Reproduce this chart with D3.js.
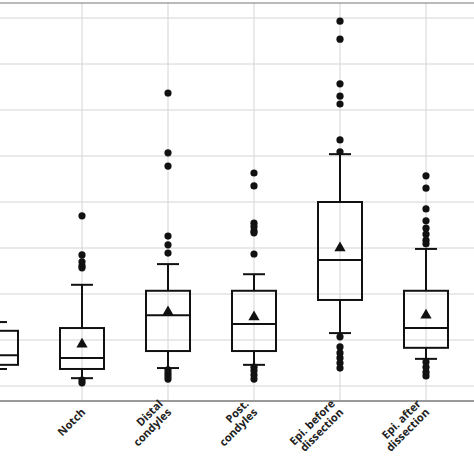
<!DOCTYPE html>
<html><head><meta charset="utf-8">
<script src="https://cdn.jsdelivr.net/npm/d3@7"></script>
<style>body{margin:0;background:#fff}</style>
</head><body><svg id="chart" width="474" height="474"></svg>
<script>
// categories (first and last are cut off by the crop)
const categories = ["Ti0", "Notch", "Distal\ncondyles", "Post.\ncondyles", "Epi. before\ndissection", "Epi. after\ndissection", "Tibial\ncut"];
const labels = ["", "Notch", "Distal\ncondyles", "Post.\ncondyles", "Epi. before\ndissection", "Epi. after\ndissection", "Tibial\ncut"];
const q1 = [0.46, 0.37, 0.76, 0.76, 1.87, 0.83, null];
const median = [0.67, 0.61, 1.54, 1.35, 2.74, 1.26, null];
const q3 = [1.20, 1.26, 2.07, 2.07, 4.00, 2.07, null];
const whiskerLo = [0.37, 0.17, 0.39, 0.46, 1.15, 0.59, null];
const whiskerHi = [1.39, 2.20, 2.65, 2.43, 5.04, 2.98, null];
const means = [null, 0.91, 1.61, 1.50, 3.00, 1.54, null];
const outliers = [
  [],
  [3.70, 2.85, 2.70, 2.61, 2.57, 0.13, 0.07],
  [6.37, 5.07, 4.78, 3.26, 3.07, 2.89, 0.35, 0.28, 0.22, 0.15],
  [4.63, 4.35, 3.54, 3.46, 3.37, 3.33, 2.87, 0.41, 0.33, 0.24, 0.15],
  [7.93, 7.54, 6.57, 6.30, 6.13, 5.35, 5.09, 1.07, 0.85, 0.72, 0.61, 0.50, 0.39],
  [4.57, 4.30, 3.85, 3.59, 3.43, 3.30, 3.17, 3.09, 0.52, 0.41, 0.30, 0.22],
  []
];
const gridValues = [0, 1, 2, 3, 4, 5, 6, 7, 8];

const svg = d3.select("#chart");
const plotTop = 3, plotBottom = 401;
const x = d3.scalePoint().domain(categories).range([-4, 512]);
const y = d3.scaleLinear().domain([0, 8]).range([386, 18]);

// gridlines
svg.append("g").selectAll("line").data(gridValues).join("line")
  .attr("x1", 0).attr("x2", 474).attr("y1", d => y(d)).attr("y2", d => y(d))
  .attr("stroke", "#d4d4d4").attr("stroke-width", 1);
svg.append("g").selectAll("line").data(categories).join("line")
  .attr("x1", d => x(d)).attr("x2", d => x(d)).attr("y1", plotTop).attr("y2", plotBottom)
  .attr("stroke", "#d4d4d4").attr("stroke-width", 1);

// frame
svg.append("line").attr("x1", 0).attr("x2", 474).attr("y1", plotTop).attr("y2", plotTop)
  .attr("stroke", "#777").attr("stroke-width", 1.2);
svg.append("line").attr("x1", 0).attr("x2", 474).attr("y1", plotBottom).attr("y2", plotBottom)
  .attr("stroke", "#999").attr("stroke-width", 2);

const bw = 44, cap = 22;
const data = categories.map((c, i) => ({c, i})).filter(d => q1[d.i] !== null);
const g = svg.append("g").attr("stroke", "#111").attr("stroke-width", 2).attr("fill", "none");
data.forEach(({c, i}) => {
  const cx = x(c);
  g.append("line").attr("x1", cx).attr("x2", cx).attr("y1", y(q3[i])).attr("y2", y(whiskerHi[i]));
  g.append("line").attr("x1", cx).attr("x2", cx).attr("y1", y(q1[i])).attr("y2", y(whiskerLo[i]));
  [whiskerHi[i], whiskerLo[i]].forEach(v =>
    g.append("line").attr("x1", cx - cap / 2).attr("x2", cx + cap / 2).attr("y1", y(v)).attr("y2", y(v)));
  g.append("rect").attr("x", cx - bw / 2).attr("width", bw)
    .attr("y", y(q3[i])).attr("height", y(q1[i]) - y(q3[i]));
  g.append("line").attr("x1", cx - bw / 2).attr("x2", cx + bw / 2)
    .attr("y1", y(median[i])).attr("y2", y(median[i]));
  svg.append("g").selectAll("circle").data(outliers[i]).join("circle")
    .attr("cx", cx).attr("cy", d => y(d)).attr("r", 3.6).attr("fill", "#111");
  if (means[i] !== null) {
    svg.append("path").attr("d", d3.symbol(d3.symbolTriangle, 55)())
      .attr("transform", `translate(${cx},${y(means[i])})`).attr("fill", "#111");
  }
});

// rotated category labels
const lg = svg.append("g").attr("font-family", "'Open Sans', sans-serif")
  .attr("font-size", 11).attr("font-weight", "bold").attr("fill", "#222");
categories.forEach((c, i) => {
  const lines = labels[i].split("\n");
  if (!labels[i]) return;
  const t = lg.append("text").attr("text-anchor", "end")
    .attr("transform", `translate(${x(c) + 4},${plotBottom + 12}) rotate(-45)`);
  lines.forEach((l, k) => t.append("tspan").attr("x", 0)
    .attr("dy", k === 0 ? -(lines.length - 1) * 12 + "px" : "12px").text(l));
});
</script></body></html>
